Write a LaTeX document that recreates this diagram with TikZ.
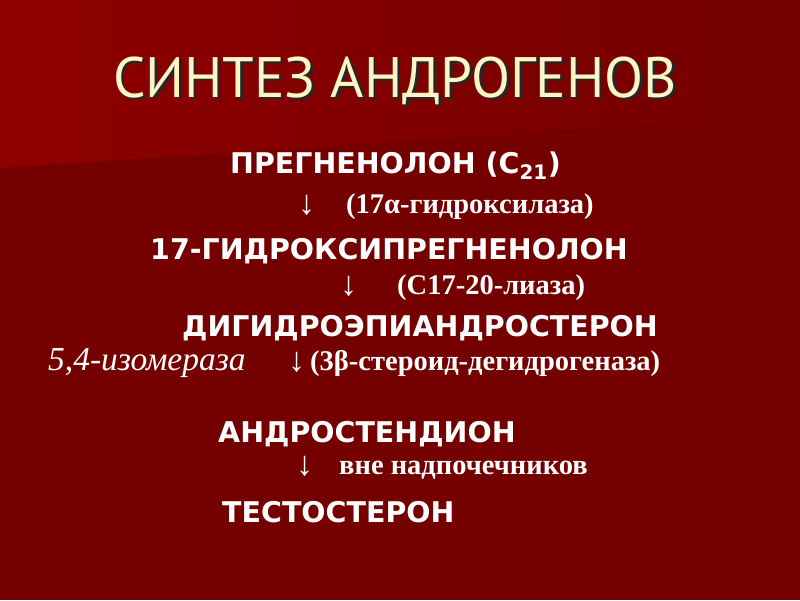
\documentclass[tikz,border=0pt]{standalone}
\usepackage{fontspec}
\setmainfont{Liberation Serif}
\newfontfamily\headfont{PT Sans}
\newfontfamily\capsfont{DejaVu Sans}
\usepackage{graphicx}
\usepackage{xcolor}
\usepackage{tikz}
\definecolor{bgdark}{HTML}{740000}
\definecolor{bglight}{HTML}{8E0000}
\definecolor{cream}{HTML}{FFF6C8}
\newcommand{\dropshadow}[1]{\makebox[0pt][l]{\hspace{2.5pt}\raisebox{-2.5pt}{\color{black!85}#1}}#1}
\newcommand{\stepdown}[1]{\makebox[14pt][l]{\raisebox{-1.5pt}{\scalebox{1.2}{↓}}}\hspace{#1}}
\tikzstyle{heading} = [anchor=base, inner sep=0pt, text=cream, font=\headfont\fontsize{57}{60}\selectfont]
\tikzstyle{compound} = [anchor=base west, inner sep=0pt, text=white, font=\capsfont\bfseries\fontsize{28.5}{32}\selectfont]
\tikzstyle{enzyme} = [anchor=base west, inner sep=0pt, text=white, font=\bfseries\fontsize{28.5}{32}\selectfont]
\tikzstyle{isomer} = [anchor=base west, inner sep=0pt, text=white, font=\itshape\fontsize{33.5}{36}\selectfont]
\begin{document}
\begin{tikzpicture}[x=1pt, y=-1pt]
	\useasboundingbox (0,0) rectangle (800,600);
	\fill [bgdark] (0,0) rectangle (800,600);
	\shade [left color=bglight, right color=bgdark] (0,0) -- (800,0) -- (800,115) -- (0,168) -- cycle;

	\node (title) [heading] at (395,97) {\dropshadow{СИНТЕЗ АНДРОГЕНОВ}};

	\node (preg) [compound] at (230,173) {ПРЕГНЕНОЛОН (C\textsubscript{21})};
	\node (step1) [enzyme] at (298,213) {\stepdown{34pt}(17α-гидроксилаза)};
	\node (ohpreg) [compound] at (150,259) {17-ГИДРОКСИПРЕГНЕНОЛОН};
	\node (step2) [enzyme] at (340,294) {\stepdown{43pt}(С17-20-лиаза)};
	\node (dhea) [compound] at (182,336) {ДИГИДРОЭПИАНДРОСТЕРОН};
	\node (iso) [isomer] at (48,370) {5,4-изомераза};
	\node (step3) [enzyme] at (288,370) {\stepdown{8pt}(3β-стероид-дегидрогеназа)};
	\node (andro) [compound] at (218,442) {АНДРОСТЕНДИОН};
	\node (step4) [enzyme] at (296,474) {\stepdown{29pt}вне надпочечников};
	\node (testo) [compound] at (222,522) {ТЕСТОСТЕРОН};
\end{tikzpicture}
\end{document}
